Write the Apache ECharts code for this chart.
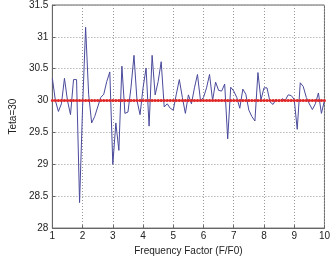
<!DOCTYPE html>
<html>
<head>
    <meta charset="utf-8">
    <title>Teta</title>
    <script src="https://cdn.jsdelivr.net/npm/echarts@6/dist/echarts.min.js"></script>
</head>
<body style="margin:0;background:#fff">
<div id="main" style="width:333px;height:261px"></div>
<script type="text/javascript">
    // frequency factor, step 0.1 from 1 to 10
    var freq = [];
    for (var i = 0; i <= 90; i++) freq.push(+(1 + i / 10).toFixed(1));

    var teta = [
        30.35, 30.0, 29.83, 29.95, 30.35, 30.0, 29.78, 30.33, 30.33, 28.4,
        29.9, 31.15, 30.1, 29.65, 29.75, 29.9, 30.05, 30.1, 30.3, 30.45,
        29.0, 29.65, 29.22, 30.54, 29.8, 29.82, 30.2, 30.71, 30.0, 29.78,
        30.2, 30.51, 29.6, 30.71, 30.09, 30.3, 30.61, 29.9, 29.95, 29.88,
        29.85, 30.1, 30.33, 30.05, 29.8, 30.09, 29.95, 30.2, 30.41, 30.0,
        30.05, 30.2, 30.41, 30.0, 30.29, 30.16, 30.15, 30.26, 29.4, 30.21,
        30.15, 30.05, 29.88, 30.18, 30.1, 29.85, 29.75, 29.68, 30.44, 30.01,
        30.2, 30.2, 29.98, 29.94, 30.02, 29.98, 30.03, 30.0, 30.09, 30.08,
        30.02, 29.55, 30.28, 30.22, 30.05, 29.95, 29.86, 29.95, 30.12, 29.8,
        30.0
    ];
    var target = 30;

    var xTicks = [1, 2, 3, 4, 5, 6, 7, 8, 9, 10];
    var yTicks = [28, 28.5, 29, 29.5, 30, 30.5, 31, 31.5];

    var lineData = freq.map(function (f, i) { return [f, teta[i]]; });
    var refData = freq.map(function (f) { return [f, target]; });

    var font = 'Liberation Sans, Arial, sans-serif';
    var myChart = echarts.init(document.getElementById('main'));
    var option = {
        animation: false,
        grid: {
            left: 33, right: 4, top: 4, bottom: 24,
            show: true, borderColor: '#666', borderWidth: 1,
            backgroundColor: '#fff'
        },
        xAxis: {
            type: 'value',
            min: xTicks[0], max: xTicks[xTicks.length - 1], interval: 1,
            name: 'Frequency Factor (F/F0)',
            nameLocation: 'middle', nameGap: 13,
            nameTextStyle: {fontFamily: font, fontSize: 10, color: '#222'},
            axisLine: {show: true, lineStyle: {color: '#666'}},
            axisTick: {inside: true, length: 3, lineStyle: {color: '#666'}},
            axisLabel: {fontFamily: font, fontSize: 10, color: '#222', margin: 3},
            splitLine: {show: true, lineStyle: {color: '#999', type: [1, 2]}}
        },
        yAxis: {
            type: 'value',
            min: yTicks[0], max: yTicks[yTicks.length - 1], interval: 0.5,
            name: 'Teta=30',
            nameLocation: 'middle', nameGap: 24,
            nameTextStyle: {fontFamily: font, fontSize: 10, color: '#222'},
            axisLine: {show: true, lineStyle: {color: '#666'}},
            axisTick: {inside: true, length: 3, lineStyle: {color: '#666'}},
            axisLabel: {fontFamily: font, fontSize: 10, color: '#222', margin: 4},
            splitLine: {show: true, lineStyle: {color: '#999', type: [1, 2]}}
        },
        series: [
            {
                type: 'line',
                data: lineData,
                showSymbol: false,
                lineStyle: {color: '#4a4a9c', width: 1},
                z: 2
            },
            {
                type: 'line',
                data: refData,
                symbol: 'circle',
                symbolSize: 3,
                itemStyle: {color: '#e02828'},
                lineStyle: {color: '#e02828', width: 1.5},
                z: 3
            }
        ]
    };
    myChart.setOption(option);
</script>
</body>
</html>
